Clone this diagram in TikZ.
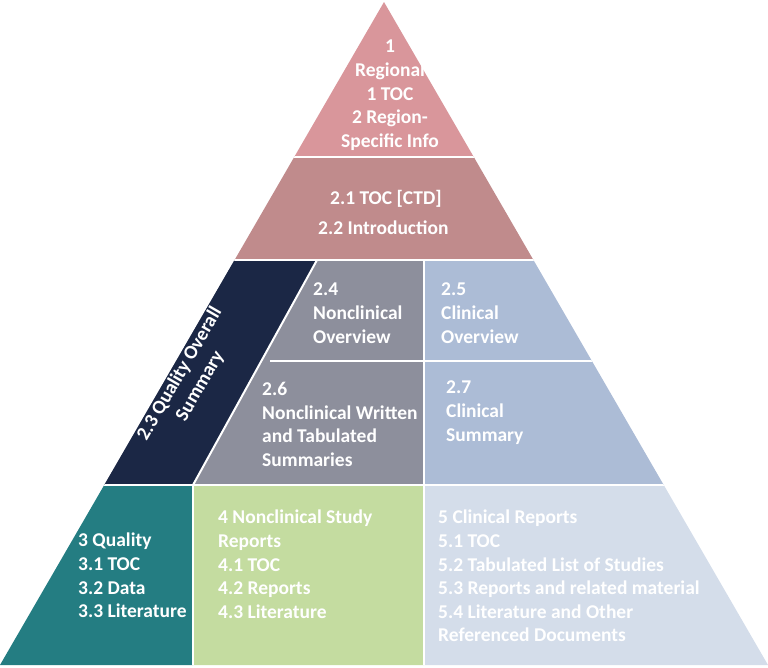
\documentclass[tikz,border=0pt]{standalone}
\usepackage{fontspec}
\setmainfont{Carlito}
\begin{document}
\begin{tikzpicture}[x=1pt,y=-1pt,
 t/.style={text=white,font=\bfseries\fontsize{19.5}{23.6}\selectfont,align=left,anchor=north west,inner sep=0pt},
 sep/.style={white,line width=2pt}]
\useasboundingbox (0,0) rectangle (768,667);
\coordinate (A) at (384,2);
\coordinate (BL) at (0,665);
\coordinate (BR) at (768,665);
\begin{scope}
\clip (A) -- (BL) -- (BR) -- cycle;
\fill[color={rgb,255:red,217;green,150;blue,155}] (0,0) rectangle (768,157);
\fill[color={rgb,255:red,192;green,139;blue,140}] (0,157) rectangle (768,260);
\fill[color={rgb,255:red,141;green,143;blue,156}] (0,260) rectangle (424,485);
\fill[color={rgb,255:red,172;green,188;blue,214}] (424,260) rectangle (768,485);
\fill[color={rgb,255:red,27;green,39;blue,69}] (0,260) -- (317,260) -- (193,485) -- (0,485) -- cycle;
\fill[color={rgb,255:red,36;green,125;blue,130}] (0,485) rectangle (193,667);
\fill[color={rgb,255:red,196;green,220;blue,160}] (193,485) rectangle (424,667);
\fill[color={rgb,255:red,212;green,221;blue,234}] (424,485) rectangle (768,667);
\draw[sep] (0,157) -- (768,157);
\draw[sep] (0,260) -- (768,260);
\draw[sep] (0,485) -- (768,485);
\draw[sep] (317,260) -- (193,485);
\draw[sep] (424,260) -- (424,667);
\draw[sep] (193,485) -- (193,667);
\draw[sep] (270,361) -- (768,361);
\end{scope}
\node[t,anchor=north,align=center] (n1) at (390,40) {1\\Regional\\1 TOC\\2 Region-\\Specific Info};
\node[t] (n21) at (330,190) {2.1 TOC [CTD]};
\node[t] (n22) at (318,221) {2.2 Introduction};
\node[t,rotate=60,anchor=center,align=center] (n23) at (190,380) {2.3 Quality Overall\\Summary};
\node[t] (n24) at (313,283) {2.4\\Nonclinical\\Overview};
\node[t] (n25) at (441,283) {2.5\\Clinical\\Overview};
\node[t] (n26) at (262,382) {2.6\\Nonclinical Written\\and Tabulated\\Summaries};
\node[t] (n27) at (446,381) {2.7\\Clinical\\Summary};
\node[t] (n3) at (78,533) {3 Quality\\3.1 TOC\\3.2 Data\\3.3 Literature};
\node[t] (n4) at (218,510) {4 Nonclinical Study\\Reports\\4.1 TOC\\4.2 Reports\\4.3 Literature};
\node[t] (n5) at (438,510) {5 Clinical Reports\\5.1 TOC\\5.2 Tabulated List of Studies\\5.3 Reports and related material\\5.4 Literature and Other\\Referenced Documents};
\end{tikzpicture}
\end{document}
